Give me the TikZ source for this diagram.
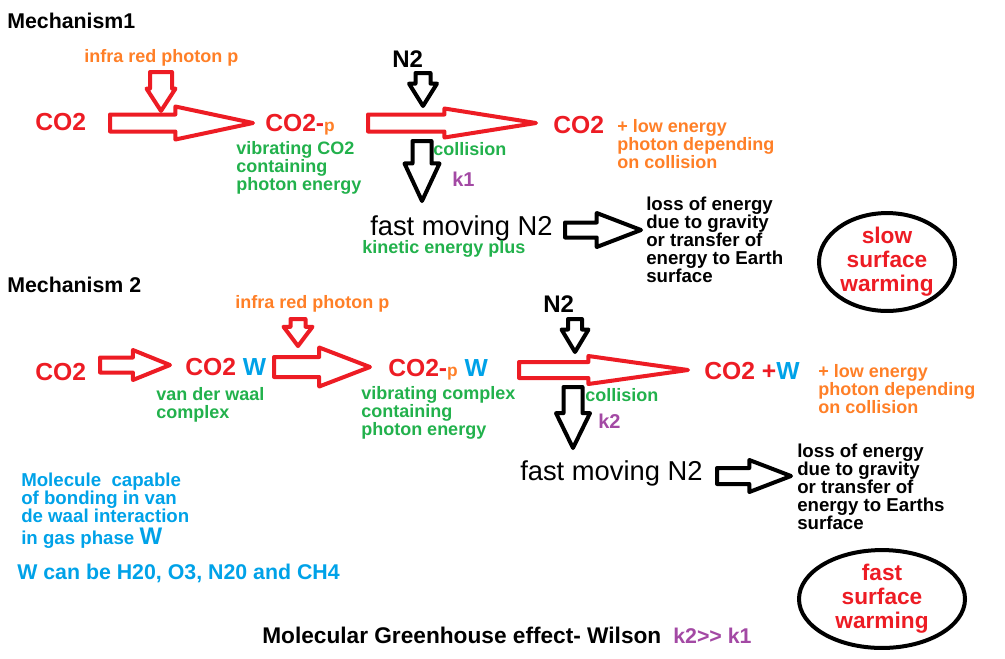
\documentclass[tikz,border=0pt]{standalone}
\usepackage{fontspec}
\setmainfont{Liberation Sans}
\usetikzlibrary{shapes.arrows, shapes.geometric, positioning}
\definecolor{paintred}{RGB}{237,28,36}
\definecolor{paintorange}{RGB}{255,127,39}
\definecolor{paintgreen}{RGB}{34,177,76}
\definecolor{paintblue}{RGB}{0,162,232}
\definecolor{paintpurple}{RGB}{163,73,164}
\tikzset{
  lbl/.style 2 args={
    inner sep=0pt, anchor=base west, align=left,
    text=#1, font=\bfseries\fontsize{#2}{13.5}\selectfont
  },
  fatarrow/.style n args={5}{
    single arrow, draw=#1, fill=white, line width=3pt, line join=round,
    minimum height=#2*0.75pt, minimum width=0pt,
    inner sep=#4*0.375pt, single arrow head extend=(#3-#4)*0.375pt,
    single arrow tip angle=#5, anchor=tail, outer sep=0pt
  },
  downarrow/.style={shape border rotate=270},
  warm/.style={
    ellipse, draw=black, line width=3pt, inner sep=0pt,
    text=paintred, align=center, font=\bfseries\fontsize{17}{18}\selectfont
  },
}
\begin{document}
\begin{tikzpicture}[x=0.75pt, y=-0.75pt]
  \useasboundingbox (0,0) rectangle (1005,658);
  % Mechanism 1
  \node[lbl={black}{16}] (mech1) at (7,28) {Mechanism1};
  \node[lbl={paintorange}{13.5}] (ir1) at (84,62) {infra red photon p};
  \node[lbl={paintred}{18.5}] (co2a) at (35,130) {CO2};
  \node[fatarrow={paintred}{143}{29}{13}{24}] (r1) at (110,123) {};
  \node[fatarrow={paintred}{36}{25}{18}{66}, downarrow] (ph1) at (161,72) {};
  \node[lbl={paintred}{18.5}] (co2p1) at (265,131)
    {CO2-{\color{paintorange}\fontsize{13}{13}\selectfont p}};
  \node[lbl={paintgreen}{13.5}] (vib1) at (236,190) {vibrating CO2\\containing\\photon energy};
  \node[lbl={black}{18}] (n2a) at (392,67) {N2};
  \node[fatarrow={paintred}{168}{25}{13}{18}] (r2) at (368,123) {};
  \node[fatarrow={black}{33}{24}{11}{64}, downarrow] (nd1) at (423,73) {};
  \node[lbl={paintred}{18.5}] (co2c) at (553,133) {CO2};
  \node[lbl={paintorange}{13.5}] (low1) at (617,168) {+ low energy\\photon depending\\on collision};
  \node[fatarrow={black}{60}{31}{15}{50}, downarrow] (cd1) at (422,141) {};
  \node[lbl={paintgreen}{13.5}] (col1) at (433,155) {collision};
  \node[lbl={paintpurple}{15}] (k1) at (452,186) {k1};
  \node[lbl={black}{19}, font=\fontsize{20.5}{21}\selectfont] (fast1) at (370,235) {fast moving N2};
  \node[lbl={paintgreen}{13.5}] (kin) at (362,253) {kinetic energy plus};
  \node[fatarrow={black}{76}{30}{11}{42}] (e1) at (565,230) {};
  \node[lbl={black}{14}] (loss1) at (646,282)
    {loss of energy\\due to gravity\\or transfer of\\energy to Earth\\surface};
  \node[warm, minimum width=102pt, minimum height=72pt] (slow) at (887,262) {slow\\surface\\warming};
  % Mechanism 2
  \node[lbl={black}{16}] (mech2) at (7,292) {Mechanism 2};
  \node[lbl={paintorange}{13.5}] (ir2) at (235,308) {infra red photon p};
  \node[lbl={paintred}{18.5}] (co2d) at (35,380) {CO2};
  \node[fatarrow={paintred}{70}{26}{11}{44}] (r3) at (100,365) {};
  \node[lbl={paintred}{18.5}] (co2w) at (185,375) {CO2 {\color{paintblue}W}};
  \node[lbl={paintgreen}{13.5}] (vdw) at (156,418) {van der waal\\complex};
  \node[fatarrow={paintred}{96}{35}{16}{42}] (r4) at (274,367) {};
  \node[fatarrow={paintred}{27}{25}{11}{74}, downarrow] (ph2) at (298,319) {};
  \node[lbl={paintred}{18.5}] (co2pw) at (388,376)
    {CO2-{\color{paintorange}\fontsize{13}{13}\selectfont p} {\color{paintblue}W}};
  \node[lbl={paintgreen}{13.5}] (vib2) at (361,435) {vibrating complex\\containing\\photon energy};
  \node[lbl={black}{18}] (n2b) at (543,312) {N2};
  \node[fatarrow={paintred}{169}{24}{12}{16}] (r5) at (519,370) {};
  \node[fatarrow={black}{33}{23}{10}{62}, downarrow] (nd2) at (575,319) {};
  \node[lbl={paintred}{18.5}] (co2e) at (704,379) {CO2 +{\color{paintblue}W}};
  \node[lbl={paintorange}{13.5}] (low2) at (818,413) {+ low energy\\photon depending\\on collision};
  \node[fatarrow={black}{61}{30}{15}{52}, downarrow] (cd2) at (573,387) {};
  \node[lbl={paintgreen}{13.5}] (col2) at (585,401) {collision};
  \node[lbl={paintpurple}{15}] (k2) at (598,428) {k2};
  \node[lbl={black}{19}, font=\fontsize{20.5}{21}\selectfont] (fast2) at (520,480) {fast moving N2};
  \node[fatarrow={black}{74}{28}{12}{42}] (e2) at (717,476) {};
  \node[lbl={black}{14}] (loss2) at (797,529)
    {loss of energy\\due to gravity\\or transfer of\\energy to Earths\\surface};
  % notes
  \node[lbl={paintblue}{14}] (wnote) at (21,544)
    {Molecule\ \ capable\\of bonding in van\\de waal interaction\\[3pt]in gas phase {\fontsize{18}{18}\selectfont W}};
  \node[lbl={paintblue}{16}] (wlist) at (17,579) {W can be H20, O3, N20 and CH4};
  \node[warm, minimum width=124.5pt, minimum height=70.5pt] (fastw) at (882,599) {fast\\surface\\warming};
  \node[lbl={black}{17}] (title) at (262,643) {Molecular Greenhouse effect- Wilson};
  \node[lbl={paintpurple}{16}] (ratio) at (673,643) {k2>{}> k1};
\end{tikzpicture}
\end{document}
